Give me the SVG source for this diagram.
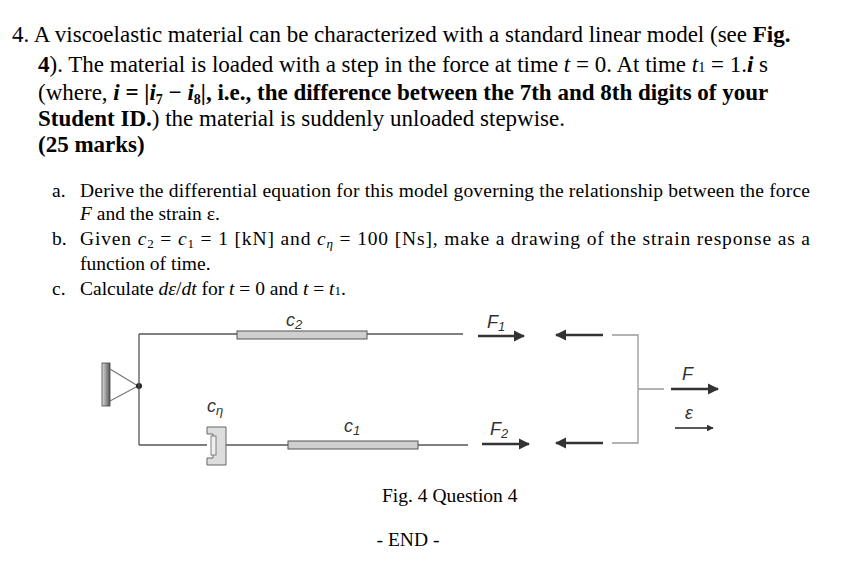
<svg xmlns="http://www.w3.org/2000/svg" width="858" height="562" viewBox="0 0 858 562">
<defs>
<style>
.t{font-family:"Liberation Serif",serif;font-size:23px;fill:#000}
.s{font-family:"Liberation Serif",serif;font-size:19.5px;fill:#000}
.l{font-family:"Liberation Sans",sans-serif;font-size:18px;font-style:italic;fill:#333}
.w{stroke:#555;stroke-width:1.3;fill:none}
.g{stroke:#999;stroke-width:1.3;fill:none}
.bar{fill:#cfcfcf;stroke:#555;stroke-width:1}
.ar{stroke:#333;stroke-width:2.5;fill:none}
</style>
<marker id="ah" viewBox="0 0 10 10" refX="9" refY="5" markerWidth="4.5" markerHeight="4.5" orient="auto-start-reverse"><path d="M0,0L10,5L0,10z" fill="#333"/></marker>
<linearGradient id="wg" x1="0" x2="1"><stop offset="0" stop-color="#ddd"/><stop offset="1" stop-color="#555"/></linearGradient>
</defs>
<rect width="858" height="562" fill="#fff"/>
<text class="t" x="12" y="42">4. A viscoelastic material can be characterized with a standard linear model (see <tspan font-weight="bold">Fig.</tspan></text>
<text class="t" x="38" y="72"><tspan font-weight="bold">4</tspan>). The material is loaded with a step in the force at time <tspan font-style="italic">t</tspan> = 0. At time <tspan font-style="italic">t</tspan><tspan font-size="14">1</tspan> =  1.<tspan font-style="italic" font-weight="bold">i</tspan> s</text>
<text class="t" x="38" y="100">(where, <tspan font-weight="bold"><tspan font-style="italic">i</tspan> = |<tspan font-style="italic">i</tspan><tspan font-size="14" dy="4">7</tspan><tspan dy="-4"> − </tspan><tspan font-style="italic">i</tspan><tspan font-size="14" dy="4">8</tspan><tspan dy="-4">|, i.e., the difference between the 7th and 8th digits of your</tspan></tspan></text>
<text class="t" x="38" y="126"><tspan font-weight="bold">Student ID.</tspan>) the material is suddenly unloaded stepwise.</text>
<text class="t" x="38" y="152" font-weight="bold">(25 marks)</text>
<text class="s" x="52" y="197">a.</text>
<text class="s" x="80" y="197" textLength="730" lengthAdjust="spacing">Derive the differential equation for this model governing the relationship between the force</text>
<text class="s" x="80" y="220"><tspan font-style="italic">F</tspan> and the strain ε.</text>
<text class="s" x="52" y="245">b.</text>
<text class="s" x="80" y="245" textLength="730" lengthAdjust="spacing">Given <tspan font-style="italic">c</tspan><tspan font-size="13" dy="3">2</tspan><tspan dy="-3"> = </tspan><tspan font-style="italic">c</tspan><tspan font-size="13" dy="3">1</tspan><tspan dy="-3"> = 1 [kN] and </tspan><tspan font-style="italic">c</tspan><tspan font-size="13" dy="3" font-style="italic">η</tspan><tspan dy="-3"> = 100 [Ns], make a drawing of the strain response as a</tspan></text>
<text class="s" x="80" y="270">function of time.</text>
<text class="s" x="52" y="295">c.</text>
<text class="s" x="80" y="295">Calculate <tspan font-style="italic">dε</tspan>/<tspan font-style="italic">dt</tspan> for <tspan font-style="italic">t</tspan> = 0 and <tspan font-style="italic">t</tspan> = <tspan font-style="italic">t</tspan><tspan font-size="13">1</tspan>.</text>
<g id="wall"><rect x="102" y="363" width="8" height="43" fill="url(#wg)" stroke="#444" stroke-width="0.8"/><path d="M110,369L138,386L110,401" fill="none" stroke="#777" stroke-width="1.2"/><circle cx="139" cy="386" r="3" fill="#222"/></g>
<g id="connectors">
<path class="w" d="M139,334V445M139,334H237M367,334H463M139,445H207M226,445H288M418,445H468"/>
<path class="g" d="M612,335H638V443H612M638,389H664"/>
<path class="ar" marker-end="url(#ah)" d="M478,336H524"/>
<path class="ar" marker-end="url(#ah)" d="M482,444H529"/>
<path class="ar" marker-end="url(#ah)" d="M603,335H556"/>
<path class="ar" marker-end="url(#ah)" d="M603,443H556"/>
<path class="ar" marker-end="url(#ah)" d="M671,389H718"/>
<path stroke="#222" stroke-width="1.5" fill="none" marker-end="url(#ah)" d="M675,428H713"/>
</g>
<g id="c2"><rect class="bar" x="237" y="331" width="130" height="8"/><text class="l" x="286" y="326">c<tspan font-size="13" dy="3">2</tspan></text></g>
<g id="c1"><rect class="bar" x="288" y="441" width="130" height="8"/><text class="l" x="344" y="432">c<tspan font-size="13" dy="3">1</tspan></text></g>
<g id="ceta"><path d="M207,427H226V465H207V458H213V434H207z" fill="#ddd" stroke="#666"/><rect x="211" y="436" width="5" height="19" fill="#eee" stroke="#666" stroke-width="0.8"/><text class="l" x="207" y="412">c<tspan font-size="13" dy="3">η</tspan></text></g>
<g id="labels"><text class="l" x="487" y="328">F<tspan font-size="13" dy="3">1</tspan></text><text class="l" x="490" y="435">F<tspan font-size="13" dy="3">2</tspan></text><text class="l" x="682" y="380">F</text><text class="l" x="685" y="419">ε</text></g>
<text class="s" x="382" y="502" font-size="17.5">Fig. 4 Question 4</text>
<text class="s" x="408" y="546" text-anchor="middle" font-size="20">- END -</text>
</svg>
